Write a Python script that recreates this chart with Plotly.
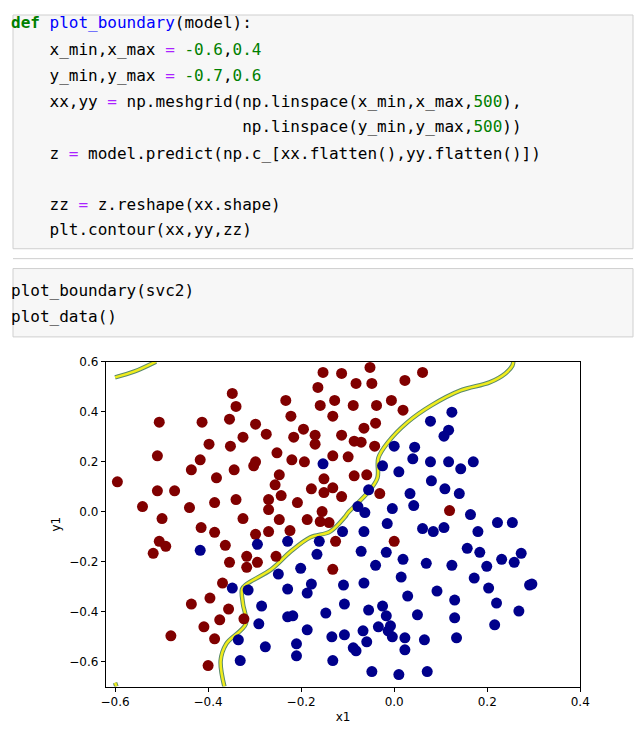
import plotly.graph_objects as go

red_x = [-0.595,-0.541,-0.518,-0.509,-0.509,-0.505,-0.505,-0.499,-0.491,-0.480,-0.472,-0.440,-0.436,-0.436,-0.417,-0.415,-0.413,-0.409,-0.400,-0.398,-0.396,-0.386,-0.386,-0.386,-0.382,-0.375,-0.369,-0.363,-0.356,-0.354,-0.354,-0.352,-0.348,-0.344,-0.340,-0.340,-0.325,-0.325,-0.323,-0.317,-0.317,-0.302,-0.298,-0.298,-0.298,-0.294,-0.275,-0.270,-0.270,-0.270,-0.256,-0.254,-0.252,-0.247,-0.247,-0.243,-0.233,-0.224,-0.222,-0.220,-0.216,-0.208,-0.195,-0.193,-0.187,-0.178,-0.170,-0.170,-0.164,-0.159,-0.159,-0.155,-0.153,-0.151,-0.151,-0.140,-0.132,-0.132,-0.132,-0.132,-0.128,-0.126,-0.113,-0.113,-0.113,-0.099,-0.088,-0.086,-0.086,-0.082,-0.071,-0.065,-0.059,-0.052,-0.048,-0.042,-0.040,-0.038,-0.031,-0.006,0.000,0.019,0.023,0.061,0.119]
red_y = [0.119,0.020,-0.167,0.223,0.083,0.358,-0.119,-0.028,-0.139,-0.497,0.083,0.016,0.167,-0.370,0.207,-0.064,0.358,-0.461,-0.616,0.270,-0.346,0.036,-0.083,-0.509,0.135,-0.433,-0.286,-0.135,-0.390,0.370,-0.203,0.262,0.473,0.167,0.421,0.048,0.298,-0.028,-0.429,-0.179,-0.223,0.183,0.350,0.199,-0.091,-0.203,0.310,0.048,0.008,-0.080,0.107,-0.179,0.235,0.147,-0.032,0.064,0.445,-0.076,0.382,0.207,0.298,0.036,0.330,0.199,-0.032,0.091,0.306,0.270,0.497,0.425,-0.040,0.000,0.557,0.131,0.076,-0.044,0.382,0.223,0.095,-0.231,0.445,-0.119,0.553,0.306,0.060,0.219,0.425,0.282,0.143,0.513,0.278,0.334,0.147,0.577,0.513,0.262,0.354,0.425,0.072,0.445,-0.119,0.406,0.525,0.557,0.004]

blue_x = [-0.417,-0.348,-0.335,-0.331,-0.314,-0.294,-0.291,-0.285,-0.277,-0.249,-0.229,-0.229,-0.229,-0.218,-0.210,-0.210,-0.201,-0.187,-0.187,-0.178,-0.166,-0.161,-0.153,-0.147,-0.134,-0.132,-0.111,-0.109,-0.107,-0.107,-0.088,-0.082,-0.078,-0.071,-0.067,-0.065,-0.065,-0.063,-0.059,-0.055,-0.055,-0.048,-0.040,-0.034,-0.025,-0.025,-0.017,-0.017,-0.015,-0.013,-0.008,-0.004,-0.004,0.000,0.010,0.010,0.015,0.019,0.023,0.023,0.029,0.034,0.040,0.042,0.044,0.050,0.061,0.065,0.069,0.071,0.078,0.078,0.080,0.084,0.092,0.107,0.107,0.109,0.117,0.117,0.124,0.124,0.130,0.130,0.134,0.140,0.143,0.157,0.164,0.170,0.172,0.180,0.184,0.199,0.203,0.216,0.220,0.222,0.231,0.254,0.258,0.268,0.273,0.291,0.296]
blue_y = [-0.155,-0.306,-0.513,-0.596,-0.314,-0.131,-0.449,-0.378,-0.541,-0.250,-0.119,-0.310,-0.421,-0.417,-0.529,-0.577,-0.227,-0.326,-0.473,-0.290,-0.171,-0.119,0.191,-0.406,-0.501,-0.596,-0.080,-0.294,-0.370,-0.493,-0.545,-0.557,0.020,-0.159,-0.477,-0.080,-0.286,-0.004,-0.521,0.087,-0.394,-0.640,-0.215,-0.461,0.183,-0.378,-0.163,-0.417,-0.048,-0.477,-0.457,0.012,-0.501,0.262,0.159,-0.652,-0.262,-0.191,-0.505,-0.553,-0.338,0.072,0.211,0.024,0.258,-0.413,-0.068,-0.513,-0.207,-0.640,0.362,0.199,0.123,-0.080,-0.318,0.302,-0.064,0.091,0.326,0.199,0.398,-0.215,-0.354,-0.425,-0.505,0.072,0.171,-0.147,-0.012,0.199,-0.266,-0.080,-0.163,-0.219,-0.306,-0.453,-0.366,-0.044,-0.191,-0.044,-0.203,-0.398,-0.167,-0.294,-0.290]

curve_x = [-0.365,-0.373,-0.361,-0.319,-0.325,-0.327,-0.317,-0.264,-0.222,-0.180,-0.138,-0.107,-0.099,-0.055,-0.036,-0.034,-0.013,0.029,0.080,0.143,0.205,0.239,0.254,0.256]
curve_y = [-0.70,-0.596,-0.529,-0.449,-0.370,-0.310,-0.290,-0.231,-0.159,-0.103,-0.080,-0.024,-0.004,0.080,0.135,0.215,0.278,0.358,0.425,0.485,0.517,0.553,0.584,0.60]
curve2_x = [-0.600,-0.558,-0.512]
curve2_y = [0.537,0.561,0.600]
curve3_x = [-0.600,-0.597]
curve3_y = [-0.685,-0.70]

xticks = [-0.6,-0.4,-0.2,0.0,0.2,0.4]
yticks = [-0.6,-0.4,-0.2,0.0,0.2,0.4,0.6]

W, H = 635, 734
OX, OY = 9, 10
fig = go.Figure()
for cx, cy in [(curve_x, curve_y), (curve2_x, curve2_y), (curve3_x, curve3_y)]:
    fig.add_trace(go.Scatter(x=cx, y=cy, mode="lines", line=dict(color="#5a8a6a", width=4.5, shape="spline"), hoverinfo="skip"))
    fig.add_trace(go.Scatter(x=cx, y=cy, mode="lines", line=dict(color="#f0ec1c", width=2.5, shape="spline"), hoverinfo="skip"))
fig.add_trace(go.Scatter(x=red_x, y=red_y, mode="markers", marker=dict(color="#800000", size=11)))
fig.add_trace(go.Scatter(x=blue_x, y=blue_y, mode="markers", marker=dict(color="#00008b", size=11)))

def px(x): return (x - OX) / W
def py(y): return 1 - (y - OY) / H

shapes = [
    dict(type="rect", xref="paper", yref="paper", x0=0, x1=1, y0=py(246), y1=1.0, fillcolor="#f7f7f7", line=dict(color="#cfcfcf", width=1), layer="below"),
    dict(type="line", xref="paper", yref="paper", x0=0, x1=1, y0=py(256), y1=py(256), line=dict(color="#cfcfcf", width=1)),
    dict(type="rect", xref="paper", yref="paper", x0=0, x1=1, y0=py(335), y1=py(266), fillcolor="#f7f7f7", line=dict(color="#cfcfcf", width=1), layer="below"),
]

G = "#008000"; P = "#aa22ff"; B = "#0000ff"; K = None
def seg(parts):
    out = ""
    for t, col in parts:
        t = t.replace(" ", "&nbsp;")
        if col == "bold":
            out += f'<b><span style="color:{G}">{t}</span></b>'
        elif col:
            out += f'<span style="color:{col}">{t}</span>'
        else:
            out += t
    return out

lines = [
    (20, [("def", "bold"), (" ", K), ("plot_boundary", B), ("(model):", K)]),
    (47, [("    x_min,x_max ", K), ("=", P), (" ", K), ("-0.6", G), (",", K), ("0.4", G)]),
    (73, [("    y_min,y_max ", K), ("=", P), (" ", K), ("-0.7", G), (",", K), ("0.6", G)]),
    (99, [("    xx,yy ", K), ("=", P), (" np.meshgrid(np.linspace(x_min,x_max,", K), ("500", G), ("),", K)]),
    (125, [("                        np.linspace(y_min,y_max,", K), ("500", G), ("))", K)]),
    (152, [("    z ", K), ("=", P), (" model.predict(np.c_[xx.flatten(),yy.flatten()])", K)]),
    (203, [("    zz ", K), ("=", P), (" z.reshape(xx.shape)", K)]),
    (229, [("    plt.contour(xx,yy,zz)", K)]),
    (290, [("plot_boundary(svc2)", K)]),
    (316, [("plot_data()", K)]),
]
anns = [dict(x=px(5), y=py(y - 2), xref="paper", yref="paper", xanchor="left", yanchor="middle",
             text=seg(p), showarrow=False,
             font=dict(family="DejaVu Sans Mono", size=16, color="#000")) for y, p in lines]

axis_common = dict(showgrid=False, zeroline=False, showline=True, linecolor="#000", linewidth=1, mirror=True,
                   ticks="outside", ticklen=4, tickcolor="#000", tickfont=dict(family="DejaVu Sans", size=12, color="#000"))
fig.update_layout(
    width=W, height=H, margin=dict(l=0, r=0, t=0, b=0), showlegend=False,
    paper_bgcolor="white", plot_bgcolor="white", shapes=shapes, annotations=anns,
    xaxis=dict(domain=[px(104), px(590)], range=[-0.62, 0.4], tickvals=xticks, tickformat=".1f",
               title=dict(text="x1", font=dict(family="DejaVu Sans", size=12, color="#000"), standoff=4), **axis_common),
    yaxis=dict(domain=[py(688), py(360)], range=[-0.7, 0.6], tickvals=yticks, tickformat=".1f",
               title=dict(text="y1", font=dict(family="DejaVu Sans", size=12, color="#000"), standoff=6), **axis_common),
)
fig.write_html("out.html")
